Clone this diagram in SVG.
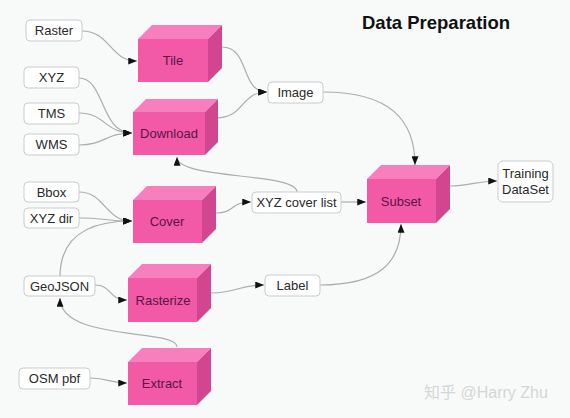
<svg xmlns="http://www.w3.org/2000/svg" width="570" height="418" viewBox="0 0 570 418">
<style>
.bg{fill:#f8fafa}
.lbl rect{fill:#ffffff;stroke:#c9cccc;stroke-width:1}
.lbl text{font-family:"Liberation Sans",Arial,sans-serif;font-size:13px;fill:#2a2a2a;text-anchor:middle}
.cube .f{fill:#f25aa8}
.cube .t{fill:#f77fbd}
.cube .s{fill:#d2468f}
.cube text{font-family:"Liberation Sans",Arial,sans-serif;font-size:13px;fill:#5a1446;text-anchor:middle}
.conn path{fill:none;stroke:#a9adad;stroke-width:1.2;marker-end:url(#arr)}
.title{font-family:"Liberation Sans",Arial,sans-serif;font-size:18.5px;font-weight:bold;fill:#111}
.wm{font-family:"Liberation Sans","Noto Sans CJK SC",sans-serif;font-size:16px;fill:#d4d6d6}
</style>
<defs>
<marker id="arr" viewBox="0 0 10 8" refX="10" refY="4" markerWidth="9" markerHeight="7" markerUnits="userSpaceOnUse" orient="auto">
<path d="M0,0 L10,4 L0,8 z" fill="#111"/>
</marker>
</defs>
<rect class="bg" x="0" y="0" width="570" height="418"/>
<text class="title" x="362" y="29">Data Preparation</text>

<g class="conn" id="connectors">
<path d="M82,31 C110,31 110,61 137,61"/>
<path d="M79,78 C105,78 100,133 132,133"/>
<path d="M79,113 C105,113 105,133 132,133"/>
<path d="M79,145 C105,145 105,133 132,133"/>
<path d="M222,47 C250,47 240,92 267,92"/>
<path d="M216,118 C245,118 240,92 267,92"/>
<path d="M323,92 C390,92 415,120 415,165"/>
<path d="M297,192 C297,172 177,180 177,157"/>
<path d="M79,192 C105,192 105,221 132,221"/>
<path d="M79,218 C105,218 105,221 132,221"/>
<path d="M60,277 C60,232 95,221 132,221"/>
<path d="M216,213 C235,213 230,202 251,202"/>
<path d="M341,202 L366,202"/>
<path d="M95,285 C112,285 108,300 127,300"/>
<path d="M211,293 C235,293 240,285 264,285"/>
<path d="M320,285 C380,285 401,262 401,224"/>
<path d="M177,347 C177,328 60,342 60,298"/>
<path d="M90,378 C110,378 108,383 127,383"/>
<path d="M450,186 C470,186 475,181 497,181"/>
</g>

<g class="cube" id="tile">
<polygon class="t" points="138,39 152,25 222,25 208,39"/>
<polygon class="s" points="208,39 222,25 222,68 208,82"/>
<rect class="f" x="138" y="39" width="70" height="43"/>
<text x="173" y="65">Tile</text>
</g>
<g class="cube" id="download">
<polygon class="t" points="133,112 146,99 218,99 205,112"/>
<polygon class="s" points="205,112 218,99 218,142 205,155"/>
<rect class="f" x="133" y="112" width="72" height="43"/>
<text x="169" y="138">Download</text>
</g>
<g class="cube" id="cover">
<polygon class="t" points="133,200 147,186 216,186 202,200"/>
<polygon class="s" points="202,200 216,186 216,229 202,243"/>
<rect class="f" x="133" y="200" width="69" height="43"/>
<text x="167" y="226">Cover</text>
</g>
<g class="cube" id="rasterize">
<polygon class="t" points="128,278 142,264 211,264 197,278"/>
<polygon class="s" points="197,278 211,264 211,308 197,322"/>
<rect class="f" x="128" y="278" width="69" height="44"/>
<text x="163" y="305">Rasterize</text>
</g>
<g class="cube" id="extract">
<polygon class="t" points="128,362 142,348 211,348 197,362"/>
<polygon class="s" points="197,362 211,348 211,391 197,405"/>
<rect class="f" x="128" y="362" width="69" height="43"/>
<text x="162" y="388">Extract</text>
</g>
<g class="cube" id="subset">
<polygon class="t" points="367,179 381,165 450,165 436,179"/>
<polygon class="s" points="436,179 450,165 450,209 436,223"/>
<rect class="f" x="367" y="179" width="69" height="44"/>
<text x="401" y="206">Subset</text>
</g>

<g class="lbl" id="raster"><rect x="26" y="20" width="56" height="21" rx="4"/><text x="54" y="35">Raster</text></g>
<g class="lbl" id="xyz"><rect x="24" y="67" width="55" height="21" rx="4"/><text x="51.5" y="82">XYZ</text></g>
<g class="lbl" id="tms"><rect x="24" y="103" width="55" height="21" rx="4"/><text x="51.5" y="118">TMS</text></g>
<g class="lbl" id="wms"><rect x="24" y="134" width="55" height="21" rx="4"/><text x="51.5" y="149">WMS</text></g>
<g class="lbl" id="bbox"><rect x="24" y="182" width="55" height="20" rx="4"/><text x="51.5" y="197">Bbox</text></g>
<g class="lbl" id="xyzdir"><rect x="24" y="208" width="55" height="20" rx="4"/><text x="51.5" y="223">XYZ dir</text></g>
<g class="lbl" id="geojson"><rect x="24" y="276" width="71" height="20" rx="4"/><text x="59.5" y="291">GeoJSON</text></g>
<g class="lbl" id="osmpbf"><rect x="19" y="368" width="71" height="21" rx="4"/><text x="54.5" y="383">OSM pbf</text></g>
<g class="lbl" id="image"><rect x="268" y="82" width="55" height="21" rx="4"/><text x="295.5" y="97">Image</text></g>
<g class="lbl" id="xyzcoverlist"><rect x="252" y="192" width="89" height="21" rx="4"/><text x="296.5" y="207">XYZ cover list</text></g>
<g class="lbl" id="label"><rect x="265" y="275" width="55" height="21" rx="4"/><text x="292.5" y="290">Label</text></g>
<g class="lbl" id="training"><rect x="498" y="161" width="55" height="41" rx="5"/><text x="525.5" y="178">Training</text><text x="525.5" y="194">DataSet</text></g>

<text class="wm" x="424" y="398">知乎 @Harry Zhu</text>
</svg>
